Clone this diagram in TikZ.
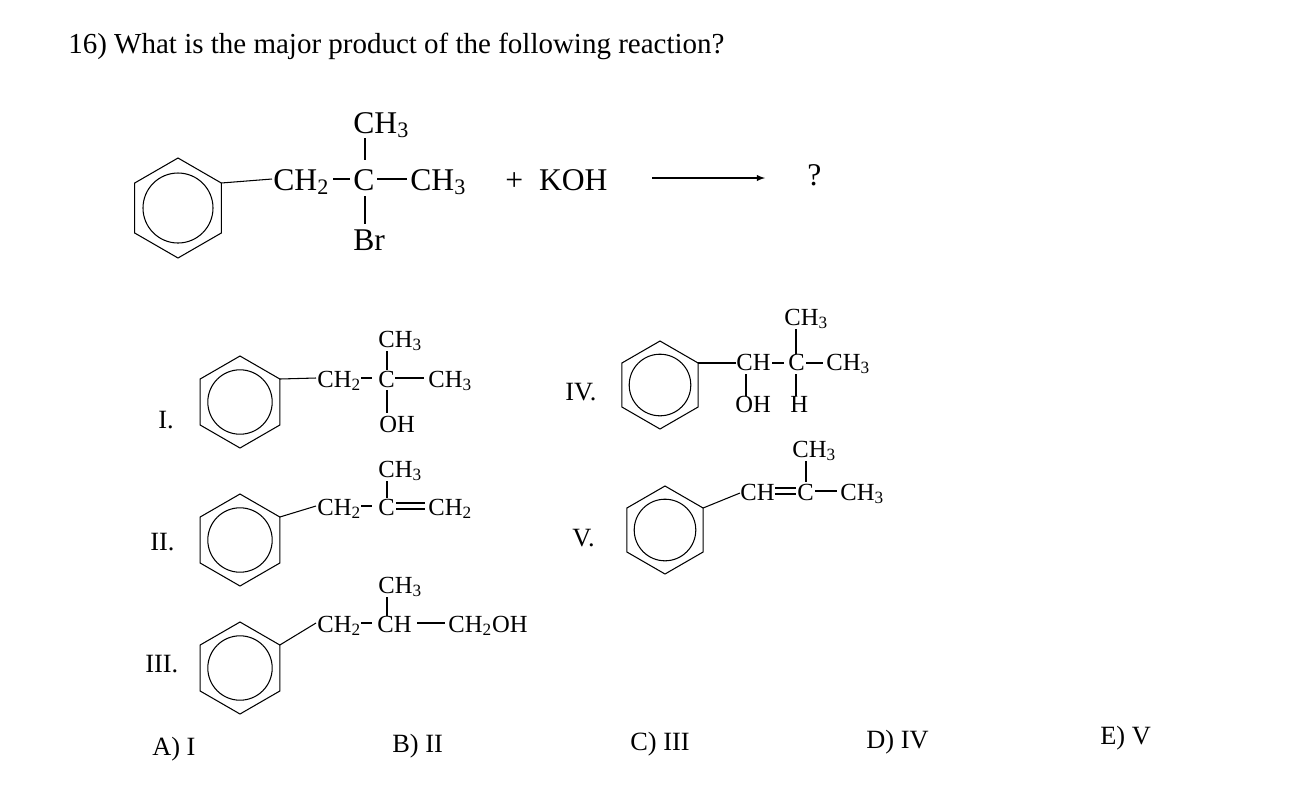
\documentclass[tikz,border=0pt]{standalone}
\usepackage{fontspec}
\setmainfont{Liberation Serif}
\begin{document}
\begin{tikzpicture}[x=0.02cm,y=-0.02cm,
  t/.style={inner sep=0pt,anchor=base west,font=\fontsize{18}{18}\selectfont},
  s/.style={inner sep=0pt,anchor=base west,font=\fontsize{14}{14}\selectfont},
  bd/.style={line width=0.6pt},
  lab/.style={inner sep=0pt,anchor=base west,font=\fontsize{15}{15}\selectfont}]
\useasboundingbox (0,0) rectangle (1292,796);
\newcommand\benz[4]{% name, x, y, r
  \draw[bd] (#2,#3) ++(90:#4) -- ++(-30:#4) -- ++(-90:#4) -- ++(-150:#4) -- ++(150:#4) -- ++(90:#4) -- cycle;
  \draw[bd] (#2,#3) circle ({0.7*#4});
  \coordinate (#1) at ([shift={(-30:#4)}]#2,#3);}
\node[lab] (title) at (68,53) {\fontsize{16.5}{16.5}\selectfont 16) What is the major product of the following reaction?};
% reactant
\benz{r}{178}{208}{50}
\node[t] (rch2) at (273,190) {CH\textsubscript{2}};
\node[t] (rc) at (353,190) {C};
\node[t] (rch3) at (410,190) {CH\textsubscript{3}};
\node[t] (rtop) at (353,133) {CH\textsubscript{3}};
\node[t] (rbr) at (353,250) {Br};
\draw[bd] (r) -- (272,179);
\draw[bd] (333,179) -- (350,179);
\draw[bd] (377,179) -- (407,179);
\draw[bd] (365,138) -- (365,160);
\draw[bd] (365,196) -- (365,224);
\node[t] (koh) at (505,190) {+\ \ KOH};
\draw[bd,-latex] (652,178) -- (765,178);
\node[t] (q) at (807,185) {?};
% I
\benz{a}{240}{402}{46}
\node[lab] (l1) at (158,428) {I.};
\node[s] (a2) at (317,387) {CH\textsubscript{2}};
\node[s] (ac) at (378,387) {C};
\node[s] (a3) at (428,387) {CH\textsubscript{3}};
\node[s] (at) at (378,347) {CH\textsubscript{3}};
\node[s] (aoh) at (379,432) {OH};
\draw[bd] (a) -- (316,378);
\draw[bd] (361,378) -- (372,378);
\draw[bd] (395,378) -- (424,378);
\draw[bd] (387,351) -- (387,370);
\draw[bd] (387,390) -- (387,413);
% II
\benz{b}{240}{540}{46}
\node[lab] (l2) at (150,550) {II.};
\node[s] (b2) at (317,515) {CH\textsubscript{2}};
\node[s] (bc) at (378,515) {C};
\node[s] (b3) at (428,515) {CH\textsubscript{2}};
\node[s] (bt) at (378,477) {CH\textsubscript{3}};
\draw[bd] (b) -- (316,506);
\draw[bd] (361,506) -- (372,506);
\draw[bd] (396,503) -- (425,503);
\draw[bd] (396,509) -- (425,509);
\draw[bd] (387,481) -- (387,498);
% III
\benz{c}{240}{668}{46}
\node[lab] (l3) at (145,672) {III.};
\node[s] (c2) at (317,632) {CH\textsubscript{2}};
\node[s] (cc) at (377,632) {CH};
\node[s] (c3) at (448,632) {CH\textsubscript{2}OH};
\node[s] (ct) at (378,593) {CH\textsubscript{3}};
\draw[bd] (c) -- (316,623);
\draw[bd] (361,623) -- (372,623);
\draw[bd] (417,623) -- (445,623);
\draw[bd] (387,597) -- (387,616);
% IV
\benz{d}{660}{385}{44}
\node[lab] (l4) at (565,400) {IV.};
\node[s] (d1) at (736,370) {CH};
\node[s] (dc) at (788,370) {C};
\node[s] (d3) at (826,370) {CH\textsubscript{3}};
\node[s] (dt) at (784,325) {CH\textsubscript{3}};
\node[s] (doh) at (735,412) {OH};
\node[s] (dh) at (790,412) {H};
\draw[bd] (d) -- (736,363);
\draw[bd] (772,363) -- (784,363);
\draw[bd] (806,363) -- (823,363);
\draw[bd] (796,329) -- (796,354);
\draw[bd] (746,374) -- (746,396);
\draw[bd] (796,374) -- (796,396);
% V
\benz{e}{665}{530}{44}
\node[lab] (l5) at (572,546) {V.};
\node[s] (e1) at (740,500) {CH};
\node[s] (ec) at (797,500) {C};
\node[s] (e3) at (840,500) {CH\textsubscript{3}};
\node[s] (et) at (792,457) {CH\textsubscript{3}};
\draw[bd] (e) -- (740,493);
\draw[bd] (775,488) -- (796,488);
\draw[bd] (775,494) -- (796,494);
\draw[bd] (815,491) -- (837,491);
\draw[bd] (806,461) -- (806,482);
% answers
\node[lab] (A) at (152,755) {A) I};
\node[lab] (B) at (392,752) {B) II};
\node[lab] (C) at (630,750) {C) III};
\node[lab] (D) at (866,748) {D) IV};
\node[lab] (E) at (1100,744) {E) V};
\end{tikzpicture}
\end{document}
